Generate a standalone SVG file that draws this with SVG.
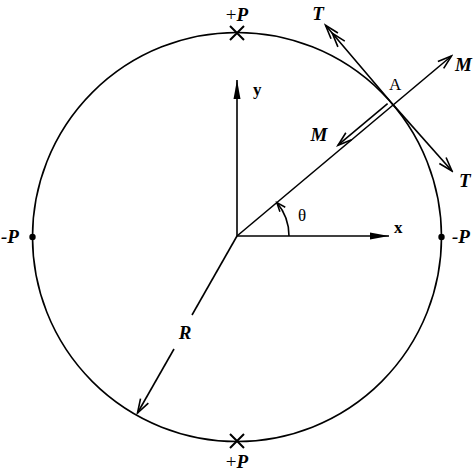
<svg xmlns="http://www.w3.org/2000/svg" width="474" height="474" viewBox="0 0 474 474">
<style>
.ln{fill:none;stroke:#000;stroke-width:1.6}
.th{fill:none;stroke:#000;stroke-width:2}
.bi{font-family:"Liberation Serif",serif;font-weight:bold;font-style:italic;font-size:19px;fill:#000}
.rg{font-family:"Liberation Serif",serif;font-size:17px;fill:#000}
.bd{font-family:"Liberation Serif",serif;font-weight:bold;font-size:17px;fill:#000}
</style>
<defs>
<marker id="tri" markerUnits="userSpaceOnUse" markerWidth="22" markerHeight="10" viewBox="-20 -5 22 10" refX="0" refY="0" orient="auto">
<path d="M-19,-3.5 L0,0 L-19,3.5 z" fill="#000"/>
</marker>
<marker id="vee" markerUnits="userSpaceOnUse" markerWidth="18" markerHeight="12" viewBox="-16 -6 18 12" refX="0" refY="0" orient="auto">
<path d="M-14,-4.5 L0,0 L-14,4.5" fill="none" stroke="#000" stroke-width="1.6"/>
</marker>
<marker id="small" markerUnits="userSpaceOnUse" markerWidth="12" markerHeight="10" viewBox="-10 -5 12 10" refX="0" refY="0" orient="auto">
<path d="M-9,-3.5 L0,0 L-9,3.5" fill="none" stroke="#000" stroke-width="1.5"/>
</marker>
</defs>
<g id="circle">
<circle cx="237" cy="237" r="204.5" class="ln"/>
</g>
<g id="connectors">
<line id="x-axis" x1="237" y1="236" x2="389" y2="236" class="ln" marker-end="url(#tri)"/>
<line id="y-axis" x1="237" y1="236" x2="237" y2="80" class="ln" marker-end="url(#tri)"/>
<line id="radial-M" x1="237" y1="236" x2="451.5" y2="56" class="ln" marker-end="url(#vee)"/>
<line id="inner-M" x1="387.6" y1="103.6" x2="338" y2="145.2" class="ln" marker-end="url(#vee)"/>
<path id="upper-T" d="M393.3,104.9 L332.3,33.3 L325.5,25.2" class="ln" marker-mid="url(#vee)" marker-end="url(#vee)"/>
<line id="lower-T" x1="393.3" y1="104.9" x2="452" y2="171" class="ln" marker-end="url(#vee)"/>
<line id="R-upper" x1="237" y1="236" x2="192" y2="315" class="ln"/>
<line id="R-lower" x1="174" y1="349" x2="137.5" y2="413" class="ln" marker-end="url(#vee)"/>
<path id="theta-arc" d="M289,236 A52,52 0 0 0 276.8,202.6" class="ln" marker-end="url(#small)"/>
</g>
<g id="marks">
<path d="M230,26 L244,40 M244,26 L230,40" class="th"/>
<path d="M230,434 L244,448 M244,434 L230,448" class="th"/>
<circle cx="32.5" cy="237" r="3.2" fill="#000"/>
<circle cx="441.5" cy="237" r="3.2" fill="#000"/>
</g>
<g id="labels">
<text x="237" y="21" text-anchor="middle" class="bi"><tspan font-style="normal" font-weight="normal">+</tspan>P</text>
<text x="237" y="468" text-anchor="middle" class="bi"><tspan font-style="normal" font-weight="normal">+</tspan>P</text>
<text x="1" y="243" class="bi">-P</text>
<text x="452" y="243" class="bi">-P</text>
<text x="318" y="20" text-anchor="middle" class="bi">T</text>
<text x="459" y="187" class="bi">T</text>
<text x="455" y="71" class="bi">M</text>
<text x="319" y="141" text-anchor="middle" class="bi">M</text>
<text x="389" y="90" class="rg" font-size="15">A</text>
<text x="185" y="339" text-anchor="middle" class="bi">R</text>
<text x="394" y="233" class="bd">x</text>
<text x="253" y="95" class="bd">y</text>
<text x="302" y="221" text-anchor="middle" class="rg">θ</text>
</g>
</svg>
